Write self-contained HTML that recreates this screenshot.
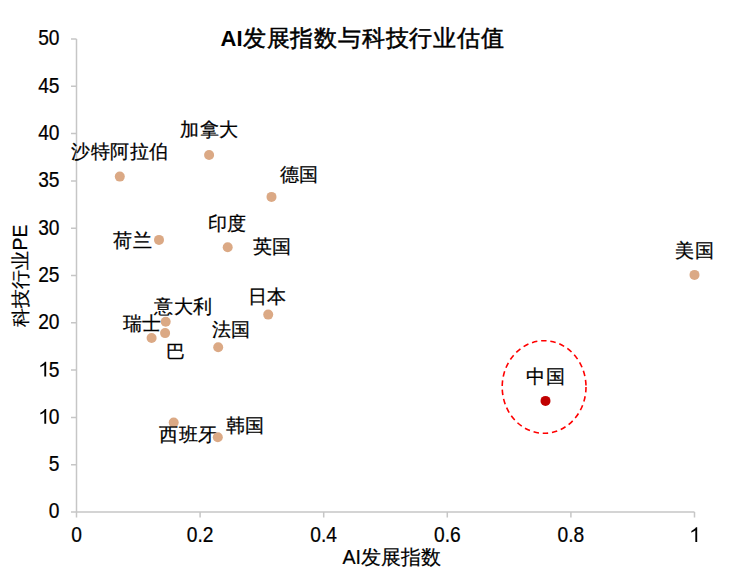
<!DOCTYPE html>
<html><head><meta charset="utf-8">
<style>
html,body{margin:0;padding:0;background:#fff;}
body{width:752px;height:579px;overflow:hidden;}
svg{display:block;}
text{font-family:"Liberation Sans",sans-serif;fill:#000;}
</style></head><body>
<svg width="752" height="579" viewBox="0 0 752 579">
<rect width="752" height="579" fill="#fff"/>
<path d="M76.5 39V517.5M71 512H694.5M71 464.7H76.5M71 417.4H76.5M71 370.1H76.5M71 322.8H76.5M71 275.5H76.5M71 228.2H76.5M71 180.9H76.5M71 133.6H76.5M71 86.3H76.5M71 39H76.5M200.1 512V517.5M323.7 512V517.5M447.3 512V517.5M570.9 512V517.5M694.5 512V517.5" fill="none" stroke="#c6c6c6" stroke-width="1.5"/>
<text transform="translate(59.5 518.4) scale(0.96 1.07)" font-size="20" stroke="#000" stroke-width="0.22" text-anchor="end">0</text>
<text transform="translate(59.5 471.1) scale(0.96 1.07)" font-size="20" stroke="#000" stroke-width="0.22" text-anchor="end">5</text>
<text transform="translate(59.5 423.8) scale(0.96 1.07)" font-size="20" stroke="#000" stroke-width="0.22" text-anchor="end">0</text>
<path stroke="#000" stroke-width="0.22" transform="translate(38.94 423.8) scale(0.00937 -0.01045)" d="M773 0H573V1120Q508 1060 390 995Q270 930 150 890V1060Q330 1140 460 1235Q589 1330 636 1420H773Z"/>
<text transform="translate(59.5 376.5) scale(0.96 1.07)" font-size="20" stroke="#000" stroke-width="0.22" text-anchor="end">5</text>
<path stroke="#000" stroke-width="0.22" transform="translate(38.94 376.5) scale(0.00937 -0.01045)" d="M773 0H573V1120Q508 1060 390 995Q270 930 150 890V1060Q330 1140 460 1235Q589 1330 636 1420H773Z"/>
<text transform="translate(59.5 329.2) scale(0.96 1.07)" font-size="20" stroke="#000" stroke-width="0.22" text-anchor="end">20</text>
<text transform="translate(59.5 281.9) scale(0.96 1.07)" font-size="20" stroke="#000" stroke-width="0.22" text-anchor="end">25</text>
<text transform="translate(59.5 234.6) scale(0.96 1.07)" font-size="20" stroke="#000" stroke-width="0.22" text-anchor="end">30</text>
<text transform="translate(59.5 187.3) scale(0.96 1.07)" font-size="20" stroke="#000" stroke-width="0.22" text-anchor="end">35</text>
<text transform="translate(59.5 140) scale(0.96 1.07)" font-size="20" stroke="#000" stroke-width="0.22" text-anchor="end">40</text>
<text transform="translate(59.5 92.7) scale(0.96 1.07)" font-size="20" stroke="#000" stroke-width="0.22" text-anchor="end">45</text>
<text transform="translate(59.5 45.4) scale(0.96 1.07)" font-size="20" stroke="#000" stroke-width="0.22" text-anchor="end">50</text>
<text transform="translate(76.5 542) scale(0.96 1.07)" font-size="20" stroke="#000" stroke-width="0.22" text-anchor="middle">0</text>
<text transform="translate(200.1 542) scale(0.96 1.07)" font-size="20" stroke="#000" stroke-width="0.22" text-anchor="middle">0.2</text>
<text transform="translate(323.7 542) scale(0.96 1.07)" font-size="20" stroke="#000" stroke-width="0.22" text-anchor="middle">0.4</text>
<text transform="translate(447.3 542) scale(0.96 1.07)" font-size="20" stroke="#000" stroke-width="0.22" text-anchor="middle">0.6</text>
<text transform="translate(570.9 542) scale(0.96 1.07)" font-size="20" stroke="#000" stroke-width="0.22" text-anchor="middle">0.8</text>
<path stroke="#000" stroke-width="0.22" transform="translate(689.96 542) scale(0.00937 -0.01045)" d="M773 0H573V1120Q508 1060 390 995Q270 930 150 890V1060Q330 1140 460 1235Q589 1330 636 1420H773Z"/>
<text transform="translate(391.8 563.9)" font-size="19.6" text-anchor="middle" stroke="#000" stroke-width="0.2">AI发展指数</text>
<text transform="translate(27.2 275.6) rotate(-90)" font-size="19.45" text-anchor="middle" stroke="#000" stroke-width="0.2">科技行业PE</text>
<text transform="translate(220.6 46.3)" font-size="22" text-anchor="start" font-weight="bold">AI</text>
<text transform="translate(242.8 45.5)" font-size="23" text-anchor="start" letter-spacing="0.8" stroke="#000" stroke-width="0.5">发展指数与科技行业估值</text>
<text x="120.22" y="158.33" font-size="19" text-anchor="middle" letter-spacing="0.5" stroke="#000" stroke-width="0.25">沙特阿拉伯</text>
<text x="209.45" y="135.56" font-size="19" text-anchor="middle" letter-spacing="0.5" stroke="#000" stroke-width="0.25">加拿大</text>
<text x="299.08" y="181" font-size="19" text-anchor="middle" letter-spacing="0.5" stroke="#000" stroke-width="0.25">德国</text>
<text x="132.67" y="246.77" font-size="19" text-anchor="middle" letter-spacing="0.5" stroke="#000" stroke-width="0.25">荷兰</text>
<text x="227.37" y="229.6" font-size="19" text-anchor="middle" letter-spacing="0.5" stroke="#000" stroke-width="0.25">印度</text>
<text x="272.41" y="252.64" font-size="19" text-anchor="middle" letter-spacing="0.5" stroke="#000" stroke-width="0.25">英国</text>
<text x="694.77" y="256.55" font-size="19" text-anchor="middle" letter-spacing="0.5" stroke="#000" stroke-width="0.25">美国</text>
<text x="183.72" y="312.6" font-size="19" text-anchor="middle" letter-spacing="0.5" stroke="#000" stroke-width="0.25">意大利</text>
<text x="142.36" y="330.04" font-size="19" text-anchor="middle" letter-spacing="0.5" stroke="#000" stroke-width="0.25">瑞士</text>
<text x="176.09" y="357.53" font-size="19" text-anchor="middle" letter-spacing="0.5" stroke="#000" stroke-width="0.25">巴</text>
<text x="267.23" y="302.72" font-size="19" text-anchor="middle" letter-spacing="0.5" stroke="#000" stroke-width="0.25">日本</text>
<text x="231.31" y="335.73" font-size="19" text-anchor="middle" letter-spacing="0.5" stroke="#000" stroke-width="0.25">法国</text>
<text x="545.91" y="382.96" font-size="19" text-anchor="middle" letter-spacing="0.5" stroke="#000" stroke-width="0.25">中国</text>
<text x="245.44" y="432.41" font-size="19" text-anchor="middle" letter-spacing="0.5" stroke="#000" stroke-width="0.25">韩国</text>
<circle cx="119.8" cy="176.6" r="5" fill="#dba985"/>
<circle cx="209.1" cy="155" r="5" fill="#dba985"/>
<circle cx="271.5" cy="196.9" r="5" fill="#dba985"/>
<circle cx="159" cy="239.9" r="5" fill="#dba985"/>
<circle cx="227.7" cy="247.2" r="5" fill="#dba985"/>
<circle cx="694.5" cy="274.9" r="5" fill="#dba985"/>
<circle cx="165.7" cy="321.8" r="5" fill="#dba985"/>
<circle cx="165.1" cy="333.1" r="5" fill="#dba985"/>
<circle cx="151.6" cy="338" r="5" fill="#dba985"/>
<circle cx="218.2" cy="347.3" r="5" fill="#dba985"/>
<circle cx="268.2" cy="314.6" r="5" fill="#dba985"/>
<circle cx="173.7" cy="422.6" r="5" fill="#dba985"/>
<text x="188.45" y="441.05" font-size="19" text-anchor="middle" letter-spacing="0.5" stroke="#000" stroke-width="0.25">西班牙</text>
<circle cx="217.8" cy="437.3" r="5" fill="#dba985"/>
<circle cx="545.5" cy="400.9" r="5" fill="#c00000"/>
<ellipse cx="544.1" cy="387" rx="41.9" ry="46.3" fill="none" stroke="#ff0000" stroke-width="1.6" stroke-dasharray="5.5 3.8"/>
</svg>
</body></html>
